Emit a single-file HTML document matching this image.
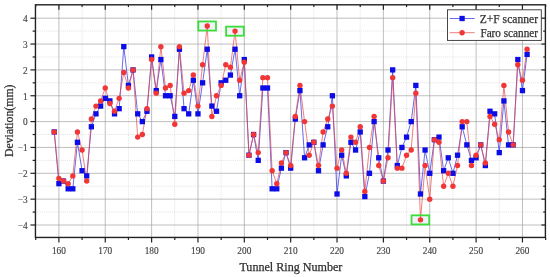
<!DOCTYPE html>
<html><head><meta charset="utf-8"><title>Deviation vs Tunnel Ring Number</title>
<style>
html,body{margin:0;padding:0;background:#fff}
body{width:550px;height:277px;overflow:hidden}
svg text{font-family:"Liberation Serif","DejaVu Serif",serif;fill:#333}
svg text.t{font-size:9.3px;fill:#444;stroke:#444;stroke-width:0.15px}
svg text.l{font-size:12px;fill:#303030;stroke:#303030;stroke-width:0.25px}
</style></head><body>
<svg width="550" height="277" viewBox="0 0 550 277" style="display:block">
<rect width="550" height="277" fill="#fff"/>
<line x1="58.90" y1="4.8" x2="58.90" y2="237.45" stroke="#949494" stroke-width="0.6"/>
<line x1="82.08" y1="4.8" x2="82.08" y2="237.45" stroke="#d2d2d2" stroke-width="0.65" stroke-dasharray="1 1.1"/>
<line x1="105.25" y1="4.8" x2="105.25" y2="237.45" stroke="#949494" stroke-width="0.6"/>
<line x1="128.43" y1="4.8" x2="128.43" y2="237.45" stroke="#d2d2d2" stroke-width="0.65" stroke-dasharray="1 1.1"/>
<line x1="151.61" y1="4.8" x2="151.61" y2="237.45" stroke="#949494" stroke-width="0.6"/>
<line x1="174.79" y1="4.8" x2="174.79" y2="237.45" stroke="#d2d2d2" stroke-width="0.65" stroke-dasharray="1 1.1"/>
<line x1="197.97" y1="4.8" x2="197.97" y2="237.45" stroke="#949494" stroke-width="0.6"/>
<line x1="221.14" y1="4.8" x2="221.14" y2="237.45" stroke="#d2d2d2" stroke-width="0.65" stroke-dasharray="1 1.1"/>
<line x1="244.32" y1="4.8" x2="244.32" y2="237.45" stroke="#949494" stroke-width="0.6"/>
<line x1="267.50" y1="4.8" x2="267.50" y2="237.45" stroke="#d2d2d2" stroke-width="0.65" stroke-dasharray="1 1.1"/>
<line x1="290.68" y1="4.8" x2="290.68" y2="237.45" stroke="#949494" stroke-width="0.6"/>
<line x1="313.85" y1="4.8" x2="313.85" y2="237.45" stroke="#d2d2d2" stroke-width="0.65" stroke-dasharray="1 1.1"/>
<line x1="337.03" y1="4.8" x2="337.03" y2="237.45" stroke="#949494" stroke-width="0.6"/>
<line x1="360.21" y1="4.8" x2="360.21" y2="237.45" stroke="#d2d2d2" stroke-width="0.65" stroke-dasharray="1 1.1"/>
<line x1="383.38" y1="4.8" x2="383.38" y2="237.45" stroke="#949494" stroke-width="0.6"/>
<line x1="406.56" y1="4.8" x2="406.56" y2="237.45" stroke="#d2d2d2" stroke-width="0.65" stroke-dasharray="1 1.1"/>
<line x1="429.74" y1="4.8" x2="429.74" y2="237.45" stroke="#949494" stroke-width="0.6"/>
<line x1="452.92" y1="4.8" x2="452.92" y2="237.45" stroke="#d2d2d2" stroke-width="0.65" stroke-dasharray="1 1.1"/>
<line x1="476.10" y1="4.8" x2="476.10" y2="237.45" stroke="#949494" stroke-width="0.6"/>
<line x1="499.27" y1="4.8" x2="499.27" y2="237.45" stroke="#d2d2d2" stroke-width="0.65" stroke-dasharray="1 1.1"/>
<line x1="522.45" y1="4.8" x2="522.45" y2="237.45" stroke="#949494" stroke-width="0.6"/>
<line x1="35.45" y1="225.00" x2="545.4" y2="225.00" stroke="#949494" stroke-width="0.6"/>
<line x1="35.45" y1="212.07" x2="545.4" y2="212.07" stroke="#d2d2d2" stroke-width="0.65" stroke-dasharray="1 1.1"/>
<line x1="35.45" y1="199.15" x2="545.4" y2="199.15" stroke="#949494" stroke-width="0.6"/>
<line x1="35.45" y1="186.22" x2="545.4" y2="186.22" stroke="#d2d2d2" stroke-width="0.65" stroke-dasharray="1 1.1"/>
<line x1="35.45" y1="173.30" x2="545.4" y2="173.30" stroke="#949494" stroke-width="0.6"/>
<line x1="35.45" y1="160.38" x2="545.4" y2="160.38" stroke="#d2d2d2" stroke-width="0.65" stroke-dasharray="1 1.1"/>
<line x1="35.45" y1="147.45" x2="545.4" y2="147.45" stroke="#949494" stroke-width="0.6"/>
<line x1="35.45" y1="134.53" x2="545.4" y2="134.53" stroke="#d2d2d2" stroke-width="0.65" stroke-dasharray="1 1.1"/>
<line x1="35.45" y1="121.60" x2="545.4" y2="121.60" stroke="#949494" stroke-width="0.6"/>
<line x1="35.45" y1="108.67" x2="545.4" y2="108.67" stroke="#d2d2d2" stroke-width="0.65" stroke-dasharray="1 1.1"/>
<line x1="35.45" y1="95.75" x2="545.4" y2="95.75" stroke="#949494" stroke-width="0.6"/>
<line x1="35.45" y1="82.82" x2="545.4" y2="82.82" stroke="#d2d2d2" stroke-width="0.65" stroke-dasharray="1 1.1"/>
<line x1="35.45" y1="69.90" x2="545.4" y2="69.90" stroke="#949494" stroke-width="0.6"/>
<line x1="35.45" y1="56.97" x2="545.4" y2="56.97" stroke="#d2d2d2" stroke-width="0.65" stroke-dasharray="1 1.1"/>
<line x1="35.45" y1="44.05" x2="545.4" y2="44.05" stroke="#949494" stroke-width="0.6"/>
<line x1="35.45" y1="31.12" x2="545.4" y2="31.12" stroke="#d2d2d2" stroke-width="0.65" stroke-dasharray="1 1.1"/>
<line x1="35.45" y1="18.20" x2="545.4" y2="18.20" stroke="#949494" stroke-width="0.6"/>
<rect x="198.29" y="21.45" width="17.7" height="9.1" fill="#f3f1f8"/>
<rect x="226.10" y="26.62" width="17.7" height="9.1" fill="#f3f1f8"/>
<rect x="411.52" y="215.33" width="17.7" height="9.1" fill="#f3f1f8"/>
<polyline points="54.26,131.94 58.90,183.64 63.54,181.06 68.17,188.81 72.81,188.81 77.44,142.28 82.08,170.72 86.71,175.88 91.35,126.77 95.98,113.84 100.62,106.09 105.25,98.33 109.89,100.92 114.53,113.84 119.16,108.67 123.80,46.63 128.43,85.41 133.07,69.90 137.70,113.84 142.34,121.60 146.97,111.26 151.61,56.97 156.25,90.58 160.88,59.56 165.52,95.75 170.15,95.75 174.79,116.43 179.42,49.22 184.06,108.67 188.69,113.84 193.33,80.24 197.97,113.84 202.60,82.82 207.24,49.22 211.87,106.09 216.51,111.26 221.14,82.82 225.78,80.24 230.41,75.07 235.05,49.22 239.68,95.75 244.32,59.56 248.96,155.20 253.59,134.53 258.23,160.38 262.86,87.99 267.50,87.99 272.13,188.81 276.77,188.81 281.40,168.13 286.04,152.62 290.68,168.13 295.31,119.02 299.95,90.58 304.58,157.79 309.22,144.87 313.85,142.28 318.49,170.72 323.12,144.87 327.76,126.77 332.39,95.75 337.03,193.98 341.67,155.20 346.30,175.88 350.94,142.28 355.57,150.03 360.21,131.94 364.84,196.56 369.48,173.30 374.11,121.60 378.75,157.79 383.38,181.06 388.02,150.03 392.66,69.90 397.29,165.54 401.93,147.45 406.56,137.11 411.20,121.60 415.83,85.41 420.47,193.98 425.10,150.03 429.74,173.30 434.38,139.69 439.01,137.11 443.65,170.72 448.28,157.79 452.92,173.30 457.55,155.20 462.19,126.77 466.82,144.87 471.46,160.38 476.10,157.79 480.73,144.87 485.37,165.54 490.00,111.26 494.64,113.84 499.27,152.62 503.91,100.92 508.54,144.87 513.18,144.87 517.81,59.56 522.45,90.58 527.09,54.39" fill="none" stroke="#2a2ae4" stroke-width="0.7"/>
<polyline points="54.26,131.94 58.90,178.47 63.54,181.06 68.17,183.64 72.81,175.88 77.44,131.94 82.08,150.03 86.71,181.06 91.35,119.02 95.98,106.09 100.62,100.92 105.25,87.99 109.89,103.50 114.53,111.26 119.16,98.33 123.80,72.48 128.43,87.99 133.07,69.90 137.70,137.11 142.34,134.53 146.97,108.67 151.61,59.56 156.25,93.16 160.88,46.63 165.52,87.99 170.15,85.41 174.79,124.18 179.42,46.63 184.06,93.16 188.69,90.58 193.33,75.07 197.97,106.09 202.60,64.73 207.24,25.95 211.87,116.43 216.51,95.75 221.14,85.41 225.78,64.73 230.41,67.31 235.05,31.12 239.68,80.24 244.32,62.14 248.96,155.20 253.59,134.53 258.23,152.62 262.86,77.66 267.50,77.66 272.13,170.72 276.77,183.64 281.40,162.96 286.04,152.62 290.68,165.54 295.31,116.43 299.95,85.41 304.58,121.60 309.22,155.20 313.85,142.28 318.49,165.54 323.12,131.94 327.76,119.02 332.39,106.09 337.03,168.13 341.67,150.03 346.30,173.30 350.94,137.11 355.57,142.28 360.21,126.77 364.84,191.39 369.48,147.45 374.11,116.43 378.75,165.54 383.38,181.06 388.02,157.79 392.66,77.66 397.29,168.13 401.93,168.13 406.56,155.20 411.20,150.03 415.83,93.16 420.47,219.83 425.10,165.54 429.74,199.15 434.38,139.69 439.01,142.28 443.65,186.22 448.28,173.30 452.92,186.22 457.55,165.54 462.19,121.60 466.82,121.60 471.46,165.54 476.10,155.20 480.73,144.87 485.37,162.96 490.00,116.43 494.64,124.18 499.27,139.69 503.91,85.41 508.54,131.94 513.18,144.87 517.81,64.73 522.45,80.24 527.09,49.22" fill="none" stroke="#ea4646" stroke-width="0.7"/>
<rect x="51.61" y="129.29" width="5.3" height="5.3" fill="#0c0ce6"/>
<rect x="56.25" y="180.99" width="5.3" height="5.3" fill="#0c0ce6"/>
<rect x="60.89" y="178.41" width="5.3" height="5.3" fill="#0c0ce6"/>
<rect x="65.52" y="186.16" width="5.3" height="5.3" fill="#0c0ce6"/>
<rect x="70.16" y="186.16" width="5.3" height="5.3" fill="#0c0ce6"/>
<rect x="74.79" y="139.63" width="5.3" height="5.3" fill="#0c0ce6"/>
<rect x="79.43" y="168.06" width="5.3" height="5.3" fill="#0c0ce6"/>
<rect x="84.06" y="173.23" width="5.3" height="5.3" fill="#0c0ce6"/>
<rect x="88.70" y="124.12" width="5.3" height="5.3" fill="#0c0ce6"/>
<rect x="93.33" y="111.19" width="5.3" height="5.3" fill="#0c0ce6"/>
<rect x="97.97" y="103.44" width="5.3" height="5.3" fill="#0c0ce6"/>
<rect x="102.60" y="95.68" width="5.3" height="5.3" fill="#0c0ce6"/>
<rect x="107.24" y="98.27" width="5.3" height="5.3" fill="#0c0ce6"/>
<rect x="111.88" y="111.19" width="5.3" height="5.3" fill="#0c0ce6"/>
<rect x="116.51" y="106.02" width="5.3" height="5.3" fill="#0c0ce6"/>
<rect x="121.15" y="43.98" width="5.3" height="5.3" fill="#0c0ce6"/>
<rect x="125.78" y="82.76" width="5.3" height="5.3" fill="#0c0ce6"/>
<rect x="130.42" y="67.25" width="5.3" height="5.3" fill="#0c0ce6"/>
<rect x="135.05" y="111.19" width="5.3" height="5.3" fill="#0c0ce6"/>
<rect x="139.69" y="118.95" width="5.3" height="5.3" fill="#0c0ce6"/>
<rect x="144.32" y="108.61" width="5.3" height="5.3" fill="#0c0ce6"/>
<rect x="148.96" y="54.32" width="5.3" height="5.3" fill="#0c0ce6"/>
<rect x="153.60" y="87.93" width="5.3" height="5.3" fill="#0c0ce6"/>
<rect x="158.23" y="56.91" width="5.3" height="5.3" fill="#0c0ce6"/>
<rect x="162.87" y="93.10" width="5.3" height="5.3" fill="#0c0ce6"/>
<rect x="167.50" y="93.10" width="5.3" height="5.3" fill="#0c0ce6"/>
<rect x="172.14" y="113.78" width="5.3" height="5.3" fill="#0c0ce6"/>
<rect x="176.77" y="46.57" width="5.3" height="5.3" fill="#0c0ce6"/>
<rect x="181.41" y="106.02" width="5.3" height="5.3" fill="#0c0ce6"/>
<rect x="186.04" y="111.19" width="5.3" height="5.3" fill="#0c0ce6"/>
<rect x="190.68" y="77.59" width="5.3" height="5.3" fill="#0c0ce6"/>
<rect x="195.31" y="111.19" width="5.3" height="5.3" fill="#0c0ce6"/>
<rect x="199.95" y="80.17" width="5.3" height="5.3" fill="#0c0ce6"/>
<rect x="204.59" y="46.57" width="5.3" height="5.3" fill="#0c0ce6"/>
<rect x="209.22" y="103.44" width="5.3" height="5.3" fill="#0c0ce6"/>
<rect x="213.86" y="108.61" width="5.3" height="5.3" fill="#0c0ce6"/>
<rect x="218.49" y="80.17" width="5.3" height="5.3" fill="#0c0ce6"/>
<rect x="223.13" y="77.59" width="5.3" height="5.3" fill="#0c0ce6"/>
<rect x="227.76" y="72.42" width="5.3" height="5.3" fill="#0c0ce6"/>
<rect x="232.40" y="46.57" width="5.3" height="5.3" fill="#0c0ce6"/>
<rect x="237.03" y="93.10" width="5.3" height="5.3" fill="#0c0ce6"/>
<rect x="241.67" y="56.91" width="5.3" height="5.3" fill="#0c0ce6"/>
<rect x="246.31" y="152.55" width="5.3" height="5.3" fill="#0c0ce6"/>
<rect x="250.94" y="131.88" width="5.3" height="5.3" fill="#0c0ce6"/>
<rect x="255.58" y="157.72" width="5.3" height="5.3" fill="#0c0ce6"/>
<rect x="260.21" y="85.34" width="5.3" height="5.3" fill="#0c0ce6"/>
<rect x="264.85" y="85.34" width="5.3" height="5.3" fill="#0c0ce6"/>
<rect x="269.48" y="186.16" width="5.3" height="5.3" fill="#0c0ce6"/>
<rect x="274.12" y="186.16" width="5.3" height="5.3" fill="#0c0ce6"/>
<rect x="278.75" y="165.48" width="5.3" height="5.3" fill="#0c0ce6"/>
<rect x="283.39" y="149.97" width="5.3" height="5.3" fill="#0c0ce6"/>
<rect x="288.03" y="165.48" width="5.3" height="5.3" fill="#0c0ce6"/>
<rect x="292.66" y="116.36" width="5.3" height="5.3" fill="#0c0ce6"/>
<rect x="297.30" y="87.93" width="5.3" height="5.3" fill="#0c0ce6"/>
<rect x="301.93" y="155.14" width="5.3" height="5.3" fill="#0c0ce6"/>
<rect x="306.57" y="142.22" width="5.3" height="5.3" fill="#0c0ce6"/>
<rect x="311.20" y="139.63" width="5.3" height="5.3" fill="#0c0ce6"/>
<rect x="315.84" y="168.06" width="5.3" height="5.3" fill="#0c0ce6"/>
<rect x="320.47" y="142.22" width="5.3" height="5.3" fill="#0c0ce6"/>
<rect x="325.11" y="124.12" width="5.3" height="5.3" fill="#0c0ce6"/>
<rect x="329.74" y="93.10" width="5.3" height="5.3" fill="#0c0ce6"/>
<rect x="334.38" y="191.33" width="5.3" height="5.3" fill="#0c0ce6"/>
<rect x="339.02" y="152.55" width="5.3" height="5.3" fill="#0c0ce6"/>
<rect x="343.65" y="173.23" width="5.3" height="5.3" fill="#0c0ce6"/>
<rect x="348.29" y="139.63" width="5.3" height="5.3" fill="#0c0ce6"/>
<rect x="352.92" y="147.38" width="5.3" height="5.3" fill="#0c0ce6"/>
<rect x="357.56" y="129.29" width="5.3" height="5.3" fill="#0c0ce6"/>
<rect x="362.19" y="193.91" width="5.3" height="5.3" fill="#0c0ce6"/>
<rect x="366.83" y="170.65" width="5.3" height="5.3" fill="#0c0ce6"/>
<rect x="371.46" y="118.95" width="5.3" height="5.3" fill="#0c0ce6"/>
<rect x="376.10" y="155.14" width="5.3" height="5.3" fill="#0c0ce6"/>
<rect x="380.74" y="178.41" width="5.3" height="5.3" fill="#0c0ce6"/>
<rect x="385.37" y="147.38" width="5.3" height="5.3" fill="#0c0ce6"/>
<rect x="390.01" y="67.25" width="5.3" height="5.3" fill="#0c0ce6"/>
<rect x="394.64" y="162.89" width="5.3" height="5.3" fill="#0c0ce6"/>
<rect x="399.28" y="144.80" width="5.3" height="5.3" fill="#0c0ce6"/>
<rect x="403.91" y="134.46" width="5.3" height="5.3" fill="#0c0ce6"/>
<rect x="408.55" y="118.95" width="5.3" height="5.3" fill="#0c0ce6"/>
<rect x="413.18" y="82.76" width="5.3" height="5.3" fill="#0c0ce6"/>
<rect x="417.82" y="191.33" width="5.3" height="5.3" fill="#0c0ce6"/>
<rect x="422.45" y="147.38" width="5.3" height="5.3" fill="#0c0ce6"/>
<rect x="427.09" y="170.65" width="5.3" height="5.3" fill="#0c0ce6"/>
<rect x="431.73" y="137.04" width="5.3" height="5.3" fill="#0c0ce6"/>
<rect x="436.36" y="134.46" width="5.3" height="5.3" fill="#0c0ce6"/>
<rect x="441.00" y="168.06" width="5.3" height="5.3" fill="#0c0ce6"/>
<rect x="445.63" y="155.14" width="5.3" height="5.3" fill="#0c0ce6"/>
<rect x="450.27" y="170.65" width="5.3" height="5.3" fill="#0c0ce6"/>
<rect x="454.90" y="152.55" width="5.3" height="5.3" fill="#0c0ce6"/>
<rect x="459.54" y="124.12" width="5.3" height="5.3" fill="#0c0ce6"/>
<rect x="464.17" y="142.22" width="5.3" height="5.3" fill="#0c0ce6"/>
<rect x="468.81" y="157.72" width="5.3" height="5.3" fill="#0c0ce6"/>
<rect x="473.45" y="155.14" width="5.3" height="5.3" fill="#0c0ce6"/>
<rect x="478.08" y="142.22" width="5.3" height="5.3" fill="#0c0ce6"/>
<rect x="482.72" y="162.89" width="5.3" height="5.3" fill="#0c0ce6"/>
<rect x="487.35" y="108.61" width="5.3" height="5.3" fill="#0c0ce6"/>
<rect x="491.99" y="111.19" width="5.3" height="5.3" fill="#0c0ce6"/>
<rect x="496.62" y="149.97" width="5.3" height="5.3" fill="#0c0ce6"/>
<rect x="501.26" y="98.27" width="5.3" height="5.3" fill="#0c0ce6"/>
<rect x="505.89" y="142.22" width="5.3" height="5.3" fill="#0c0ce6"/>
<rect x="510.53" y="142.22" width="5.3" height="5.3" fill="#0c0ce6"/>
<rect x="515.16" y="56.91" width="5.3" height="5.3" fill="#0c0ce6"/>
<rect x="519.80" y="87.93" width="5.3" height="5.3" fill="#0c0ce6"/>
<rect x="524.44" y="51.74" width="5.3" height="5.3" fill="#0c0ce6"/>
<circle cx="54.26" cy="131.94" r="2.7" fill="#f03636"/>
<circle cx="58.90" cy="178.47" r="2.7" fill="#f03636"/>
<circle cx="63.54" cy="181.06" r="2.7" fill="#f03636"/>
<circle cx="68.17" cy="183.64" r="2.7" fill="#f03636"/>
<circle cx="72.81" cy="175.88" r="2.7" fill="#f03636"/>
<circle cx="77.44" cy="131.94" r="2.7" fill="#f03636"/>
<circle cx="82.08" cy="150.03" r="2.7" fill="#f03636"/>
<circle cx="86.71" cy="181.06" r="2.7" fill="#f03636"/>
<circle cx="91.35" cy="119.02" r="2.7" fill="#f03636"/>
<circle cx="95.98" cy="106.09" r="2.7" fill="#f03636"/>
<circle cx="100.62" cy="100.92" r="2.7" fill="#f03636"/>
<circle cx="105.25" cy="87.99" r="2.7" fill="#f03636"/>
<circle cx="109.89" cy="103.50" r="2.7" fill="#f03636"/>
<circle cx="114.53" cy="111.26" r="2.7" fill="#f03636"/>
<circle cx="119.16" cy="98.33" r="2.7" fill="#f03636"/>
<circle cx="123.80" cy="72.48" r="2.7" fill="#f03636"/>
<circle cx="128.43" cy="87.99" r="2.7" fill="#f03636"/>
<circle cx="133.07" cy="69.90" r="2.7" fill="#f03636"/>
<circle cx="137.70" cy="137.11" r="2.7" fill="#f03636"/>
<circle cx="142.34" cy="134.53" r="2.7" fill="#f03636"/>
<circle cx="146.97" cy="108.67" r="2.7" fill="#f03636"/>
<circle cx="151.61" cy="59.56" r="2.7" fill="#f03636"/>
<circle cx="156.25" cy="93.16" r="2.7" fill="#f03636"/>
<circle cx="160.88" cy="46.63" r="2.7" fill="#f03636"/>
<circle cx="165.52" cy="87.99" r="2.7" fill="#f03636"/>
<circle cx="170.15" cy="85.41" r="2.7" fill="#f03636"/>
<circle cx="174.79" cy="124.18" r="2.7" fill="#f03636"/>
<circle cx="179.42" cy="46.63" r="2.7" fill="#f03636"/>
<circle cx="184.06" cy="93.16" r="2.7" fill="#f03636"/>
<circle cx="188.69" cy="90.58" r="2.7" fill="#f03636"/>
<circle cx="193.33" cy="75.07" r="2.7" fill="#f03636"/>
<circle cx="197.97" cy="106.09" r="2.7" fill="#f03636"/>
<circle cx="202.60" cy="64.73" r="2.7" fill="#f03636"/>
<circle cx="207.24" cy="25.95" r="2.7" fill="#f03636"/>
<circle cx="211.87" cy="116.43" r="2.7" fill="#f03636"/>
<circle cx="216.51" cy="95.75" r="2.7" fill="#f03636"/>
<circle cx="221.14" cy="85.41" r="2.7" fill="#f03636"/>
<circle cx="225.78" cy="64.73" r="2.7" fill="#f03636"/>
<circle cx="230.41" cy="67.31" r="2.7" fill="#f03636"/>
<circle cx="235.05" cy="31.12" r="2.7" fill="#f03636"/>
<circle cx="239.68" cy="80.24" r="2.7" fill="#f03636"/>
<circle cx="244.32" cy="62.14" r="2.7" fill="#f03636"/>
<circle cx="248.96" cy="155.20" r="2.7" fill="#f03636"/>
<circle cx="253.59" cy="134.53" r="2.7" fill="#f03636"/>
<circle cx="258.23" cy="152.62" r="2.7" fill="#f03636"/>
<circle cx="262.86" cy="77.66" r="2.7" fill="#f03636"/>
<circle cx="267.50" cy="77.66" r="2.7" fill="#f03636"/>
<circle cx="272.13" cy="170.72" r="2.7" fill="#f03636"/>
<circle cx="276.77" cy="183.64" r="2.7" fill="#f03636"/>
<circle cx="281.40" cy="162.96" r="2.7" fill="#f03636"/>
<circle cx="286.04" cy="152.62" r="2.7" fill="#f03636"/>
<circle cx="290.68" cy="165.54" r="2.7" fill="#f03636"/>
<circle cx="295.31" cy="116.43" r="2.7" fill="#f03636"/>
<circle cx="299.95" cy="85.41" r="2.7" fill="#f03636"/>
<circle cx="304.58" cy="121.60" r="2.7" fill="#f03636"/>
<circle cx="309.22" cy="155.20" r="2.7" fill="#f03636"/>
<circle cx="313.85" cy="142.28" r="2.7" fill="#f03636"/>
<circle cx="318.49" cy="165.54" r="2.7" fill="#f03636"/>
<circle cx="323.12" cy="131.94" r="2.7" fill="#f03636"/>
<circle cx="327.76" cy="119.02" r="2.7" fill="#f03636"/>
<circle cx="332.39" cy="106.09" r="2.7" fill="#f03636"/>
<circle cx="337.03" cy="168.13" r="2.7" fill="#f03636"/>
<circle cx="341.67" cy="150.03" r="2.7" fill="#f03636"/>
<circle cx="346.30" cy="173.30" r="2.7" fill="#f03636"/>
<circle cx="350.94" cy="137.11" r="2.7" fill="#f03636"/>
<circle cx="355.57" cy="142.28" r="2.7" fill="#f03636"/>
<circle cx="360.21" cy="126.77" r="2.7" fill="#f03636"/>
<circle cx="364.84" cy="191.39" r="2.7" fill="#f03636"/>
<circle cx="369.48" cy="147.45" r="2.7" fill="#f03636"/>
<circle cx="374.11" cy="116.43" r="2.7" fill="#f03636"/>
<circle cx="378.75" cy="165.54" r="2.7" fill="#f03636"/>
<circle cx="383.38" cy="181.06" r="2.7" fill="#f03636"/>
<circle cx="388.02" cy="157.79" r="2.7" fill="#f03636"/>
<circle cx="392.66" cy="77.66" r="2.7" fill="#f03636"/>
<circle cx="397.29" cy="168.13" r="2.7" fill="#f03636"/>
<circle cx="401.93" cy="168.13" r="2.7" fill="#f03636"/>
<circle cx="406.56" cy="155.20" r="2.7" fill="#f03636"/>
<circle cx="411.20" cy="150.03" r="2.7" fill="#f03636"/>
<circle cx="415.83" cy="93.16" r="2.7" fill="#f03636"/>
<circle cx="420.47" cy="219.83" r="2.7" fill="#f03636"/>
<circle cx="425.10" cy="165.54" r="2.7" fill="#f03636"/>
<circle cx="429.74" cy="199.15" r="2.7" fill="#f03636"/>
<circle cx="434.38" cy="139.69" r="2.7" fill="#f03636"/>
<circle cx="439.01" cy="142.28" r="2.7" fill="#f03636"/>
<circle cx="443.65" cy="186.22" r="2.7" fill="#f03636"/>
<circle cx="448.28" cy="173.30" r="2.7" fill="#f03636"/>
<circle cx="452.92" cy="186.22" r="2.7" fill="#f03636"/>
<circle cx="457.55" cy="165.54" r="2.7" fill="#f03636"/>
<circle cx="462.19" cy="121.60" r="2.7" fill="#f03636"/>
<circle cx="466.82" cy="121.60" r="2.7" fill="#f03636"/>
<circle cx="471.46" cy="165.54" r="2.7" fill="#f03636"/>
<circle cx="476.10" cy="155.20" r="2.7" fill="#f03636"/>
<circle cx="480.73" cy="144.87" r="2.7" fill="#f03636"/>
<circle cx="485.37" cy="162.96" r="2.7" fill="#f03636"/>
<circle cx="490.00" cy="116.43" r="2.7" fill="#f03636"/>
<circle cx="494.64" cy="124.18" r="2.7" fill="#f03636"/>
<circle cx="499.27" cy="139.69" r="2.7" fill="#f03636"/>
<circle cx="503.91" cy="85.41" r="2.7" fill="#f03636"/>
<circle cx="508.54" cy="131.94" r="2.7" fill="#f03636"/>
<circle cx="513.18" cy="144.87" r="2.7" fill="#f03636"/>
<circle cx="517.81" cy="64.73" r="2.7" fill="#f03636"/>
<circle cx="522.45" cy="80.24" r="2.7" fill="#f03636"/>
<circle cx="527.09" cy="49.22" r="2.7" fill="#f03636"/>
<rect x="198.29" y="21.45" width="17.7" height="9.1" fill="none" stroke="#3ade3a" stroke-width="1.8"/>
<rect x="226.10" y="26.62" width="17.7" height="9.1" fill="none" stroke="#3ade3a" stroke-width="1.8"/>
<rect x="411.52" y="215.33" width="17.7" height="9.1" fill="none" stroke="#3ade3a" stroke-width="1.8"/>
<rect x="35.45" y="4.8" width="509.95" height="232.65" fill="none" stroke="#222" stroke-width="1.4"/>
<line x1="35.72" y1="237.45" x2="35.72" y2="239.95" stroke="#222" stroke-width="1.2"/>
<line x1="35.72" y1="4.8" x2="35.72" y2="7.0" stroke="#222" stroke-width="1.2"/>
<line x1="58.90" y1="237.45" x2="58.90" y2="242.45" stroke="#222" stroke-width="1.2"/>
<line x1="58.90" y1="4.8" x2="58.90" y2="9.8" stroke="#222" stroke-width="1.2"/>
<text x="58.90" y="253.6" text-anchor="middle" class="t">160</text>
<line x1="82.08" y1="237.45" x2="82.08" y2="239.95" stroke="#222" stroke-width="1.2"/>
<line x1="82.08" y1="4.8" x2="82.08" y2="7.0" stroke="#222" stroke-width="1.2"/>
<line x1="105.25" y1="237.45" x2="105.25" y2="242.45" stroke="#222" stroke-width="1.2"/>
<line x1="105.25" y1="4.8" x2="105.25" y2="9.8" stroke="#222" stroke-width="1.2"/>
<text x="105.25" y="253.6" text-anchor="middle" class="t">170</text>
<line x1="128.43" y1="237.45" x2="128.43" y2="239.95" stroke="#222" stroke-width="1.2"/>
<line x1="128.43" y1="4.8" x2="128.43" y2="7.0" stroke="#222" stroke-width="1.2"/>
<line x1="151.61" y1="237.45" x2="151.61" y2="242.45" stroke="#222" stroke-width="1.2"/>
<line x1="151.61" y1="4.8" x2="151.61" y2="9.8" stroke="#222" stroke-width="1.2"/>
<text x="151.61" y="253.6" text-anchor="middle" class="t">180</text>
<line x1="174.79" y1="237.45" x2="174.79" y2="239.95" stroke="#222" stroke-width="1.2"/>
<line x1="174.79" y1="4.8" x2="174.79" y2="7.0" stroke="#222" stroke-width="1.2"/>
<line x1="197.97" y1="237.45" x2="197.97" y2="242.45" stroke="#222" stroke-width="1.2"/>
<line x1="197.97" y1="4.8" x2="197.97" y2="9.8" stroke="#222" stroke-width="1.2"/>
<text x="197.97" y="253.6" text-anchor="middle" class="t">190</text>
<line x1="221.14" y1="237.45" x2="221.14" y2="239.95" stroke="#222" stroke-width="1.2"/>
<line x1="221.14" y1="4.8" x2="221.14" y2="7.0" stroke="#222" stroke-width="1.2"/>
<line x1="244.32" y1="237.45" x2="244.32" y2="242.45" stroke="#222" stroke-width="1.2"/>
<line x1="244.32" y1="4.8" x2="244.32" y2="9.8" stroke="#222" stroke-width="1.2"/>
<text x="244.32" y="253.6" text-anchor="middle" class="t">200</text>
<line x1="267.50" y1="237.45" x2="267.50" y2="239.95" stroke="#222" stroke-width="1.2"/>
<line x1="267.50" y1="4.8" x2="267.50" y2="7.0" stroke="#222" stroke-width="1.2"/>
<line x1="290.68" y1="237.45" x2="290.68" y2="242.45" stroke="#222" stroke-width="1.2"/>
<line x1="290.68" y1="4.8" x2="290.68" y2="9.8" stroke="#222" stroke-width="1.2"/>
<text x="290.68" y="253.6" text-anchor="middle" class="t">210</text>
<line x1="313.85" y1="237.45" x2="313.85" y2="239.95" stroke="#222" stroke-width="1.2"/>
<line x1="313.85" y1="4.8" x2="313.85" y2="7.0" stroke="#222" stroke-width="1.2"/>
<line x1="337.03" y1="237.45" x2="337.03" y2="242.45" stroke="#222" stroke-width="1.2"/>
<line x1="337.03" y1="4.8" x2="337.03" y2="9.8" stroke="#222" stroke-width="1.2"/>
<text x="337.03" y="253.6" text-anchor="middle" class="t">220</text>
<line x1="360.21" y1="237.45" x2="360.21" y2="239.95" stroke="#222" stroke-width="1.2"/>
<line x1="360.21" y1="4.8" x2="360.21" y2="7.0" stroke="#222" stroke-width="1.2"/>
<line x1="383.38" y1="237.45" x2="383.38" y2="242.45" stroke="#222" stroke-width="1.2"/>
<line x1="383.38" y1="4.8" x2="383.38" y2="9.8" stroke="#222" stroke-width="1.2"/>
<text x="383.38" y="253.6" text-anchor="middle" class="t">230</text>
<line x1="406.56" y1="237.45" x2="406.56" y2="239.95" stroke="#222" stroke-width="1.2"/>
<line x1="406.56" y1="4.8" x2="406.56" y2="7.0" stroke="#222" stroke-width="1.2"/>
<line x1="429.74" y1="237.45" x2="429.74" y2="242.45" stroke="#222" stroke-width="1.2"/>
<line x1="429.74" y1="4.8" x2="429.74" y2="9.8" stroke="#222" stroke-width="1.2"/>
<text x="429.74" y="253.6" text-anchor="middle" class="t">240</text>
<line x1="452.92" y1="237.45" x2="452.92" y2="239.95" stroke="#222" stroke-width="1.2"/>
<line x1="452.92" y1="4.8" x2="452.92" y2="7.0" stroke="#222" stroke-width="1.2"/>
<line x1="476.10" y1="237.45" x2="476.10" y2="242.45" stroke="#222" stroke-width="1.2"/>
<line x1="476.10" y1="4.8" x2="476.10" y2="9.8" stroke="#222" stroke-width="1.2"/>
<text x="476.10" y="253.6" text-anchor="middle" class="t">250</text>
<line x1="499.27" y1="237.45" x2="499.27" y2="239.95" stroke="#222" stroke-width="1.2"/>
<line x1="499.27" y1="4.8" x2="499.27" y2="7.0" stroke="#222" stroke-width="1.2"/>
<line x1="522.45" y1="237.45" x2="522.45" y2="242.45" stroke="#222" stroke-width="1.2"/>
<line x1="522.45" y1="4.8" x2="522.45" y2="9.8" stroke="#222" stroke-width="1.2"/>
<text x="522.45" y="253.6" text-anchor="middle" class="t">260</text>
<line x1="545.63" y1="237.45" x2="545.63" y2="239.95" stroke="#222" stroke-width="1.2"/>
<line x1="545.63" y1="4.8" x2="545.63" y2="7.0" stroke="#222" stroke-width="1.2"/>
<line x1="30.450000000000003" y1="225.00" x2="35.45" y2="225.00" stroke="#222" stroke-width="1.2"/>
<line x1="541.4" y1="225.00" x2="545.4" y2="225.00" stroke="#222" stroke-width="1.2"/>
<text x="27.6" y="228.80" text-anchor="end" class="t">−4</text>
<line x1="32.650000000000006" y1="212.07" x2="35.45" y2="212.07" stroke="#222" stroke-width="1.2"/>
<line x1="543.1999999999999" y1="212.07" x2="545.4" y2="212.07" stroke="#222" stroke-width="1.2"/>
<line x1="30.450000000000003" y1="199.15" x2="35.45" y2="199.15" stroke="#222" stroke-width="1.2"/>
<line x1="541.4" y1="199.15" x2="545.4" y2="199.15" stroke="#222" stroke-width="1.2"/>
<text x="27.6" y="202.95" text-anchor="end" class="t">−3</text>
<line x1="32.650000000000006" y1="186.22" x2="35.45" y2="186.22" stroke="#222" stroke-width="1.2"/>
<line x1="543.1999999999999" y1="186.22" x2="545.4" y2="186.22" stroke="#222" stroke-width="1.2"/>
<line x1="30.450000000000003" y1="173.30" x2="35.45" y2="173.30" stroke="#222" stroke-width="1.2"/>
<line x1="541.4" y1="173.30" x2="545.4" y2="173.30" stroke="#222" stroke-width="1.2"/>
<text x="27.6" y="177.10" text-anchor="end" class="t">−2</text>
<line x1="32.650000000000006" y1="160.38" x2="35.45" y2="160.38" stroke="#222" stroke-width="1.2"/>
<line x1="543.1999999999999" y1="160.38" x2="545.4" y2="160.38" stroke="#222" stroke-width="1.2"/>
<line x1="30.450000000000003" y1="147.45" x2="35.45" y2="147.45" stroke="#222" stroke-width="1.2"/>
<line x1="541.4" y1="147.45" x2="545.4" y2="147.45" stroke="#222" stroke-width="1.2"/>
<text x="27.6" y="151.25" text-anchor="end" class="t">−1</text>
<line x1="32.650000000000006" y1="134.53" x2="35.45" y2="134.53" stroke="#222" stroke-width="1.2"/>
<line x1="543.1999999999999" y1="134.53" x2="545.4" y2="134.53" stroke="#222" stroke-width="1.2"/>
<line x1="30.450000000000003" y1="121.60" x2="35.45" y2="121.60" stroke="#222" stroke-width="1.2"/>
<line x1="541.4" y1="121.60" x2="545.4" y2="121.60" stroke="#222" stroke-width="1.2"/>
<text x="27.6" y="125.40" text-anchor="end" class="t">0</text>
<line x1="32.650000000000006" y1="108.67" x2="35.45" y2="108.67" stroke="#222" stroke-width="1.2"/>
<line x1="543.1999999999999" y1="108.67" x2="545.4" y2="108.67" stroke="#222" stroke-width="1.2"/>
<line x1="30.450000000000003" y1="95.75" x2="35.45" y2="95.75" stroke="#222" stroke-width="1.2"/>
<line x1="541.4" y1="95.75" x2="545.4" y2="95.75" stroke="#222" stroke-width="1.2"/>
<text x="27.6" y="99.55" text-anchor="end" class="t">1</text>
<line x1="32.650000000000006" y1="82.82" x2="35.45" y2="82.82" stroke="#222" stroke-width="1.2"/>
<line x1="543.1999999999999" y1="82.82" x2="545.4" y2="82.82" stroke="#222" stroke-width="1.2"/>
<line x1="30.450000000000003" y1="69.90" x2="35.45" y2="69.90" stroke="#222" stroke-width="1.2"/>
<line x1="541.4" y1="69.90" x2="545.4" y2="69.90" stroke="#222" stroke-width="1.2"/>
<text x="27.6" y="73.70" text-anchor="end" class="t">2</text>
<line x1="32.650000000000006" y1="56.97" x2="35.45" y2="56.97" stroke="#222" stroke-width="1.2"/>
<line x1="543.1999999999999" y1="56.97" x2="545.4" y2="56.97" stroke="#222" stroke-width="1.2"/>
<line x1="30.450000000000003" y1="44.05" x2="35.45" y2="44.05" stroke="#222" stroke-width="1.2"/>
<line x1="541.4" y1="44.05" x2="545.4" y2="44.05" stroke="#222" stroke-width="1.2"/>
<text x="27.6" y="47.85" text-anchor="end" class="t">3</text>
<line x1="32.650000000000006" y1="31.12" x2="35.45" y2="31.12" stroke="#222" stroke-width="1.2"/>
<line x1="543.1999999999999" y1="31.12" x2="545.4" y2="31.12" stroke="#222" stroke-width="1.2"/>
<line x1="30.450000000000003" y1="18.20" x2="35.45" y2="18.20" stroke="#222" stroke-width="1.2"/>
<line x1="541.4" y1="18.20" x2="545.4" y2="18.20" stroke="#222" stroke-width="1.2"/>
<text x="27.6" y="22.00" text-anchor="end" class="t">4</text>
<rect x="447.5" y="9.8" width="93.8" height="30.6" fill="#fff" stroke="#333" stroke-width="0.9"/>
<line x1="449.6" y1="18.5" x2="474.7" y2="18.5" stroke="#2a2ae4" stroke-width="0.7"/>
<rect x="459.45" y="15.85" width="5.3" height="5.3" fill="#0c0ce6"/>
<line x1="449.6" y1="32.7" x2="474.7" y2="32.7" stroke="#ea4646" stroke-width="0.7"/>
<circle cx="462.1" cy="32.7" r="2.7" fill="#f03636"/>
<text x="479.7" y="22.7" class="l" textLength="58.3" lengthAdjust="spacingAndGlyphs">Z+F scanner</text>
<text x="480.4" y="36.6" class="l" textLength="57.6" lengthAdjust="spacingAndGlyphs">Faro scanner</text>
<text x="290.9" y="270.6" text-anchor="middle" class="l" textLength="103" lengthAdjust="spacingAndGlyphs">Tunnel Ring Number</text>
<text transform="translate(13.1,120.8) rotate(-90)" text-anchor="middle" class="l" textLength="72.6" lengthAdjust="spacingAndGlyphs">Deviation(mm)</text>
</svg>
</body></html>
